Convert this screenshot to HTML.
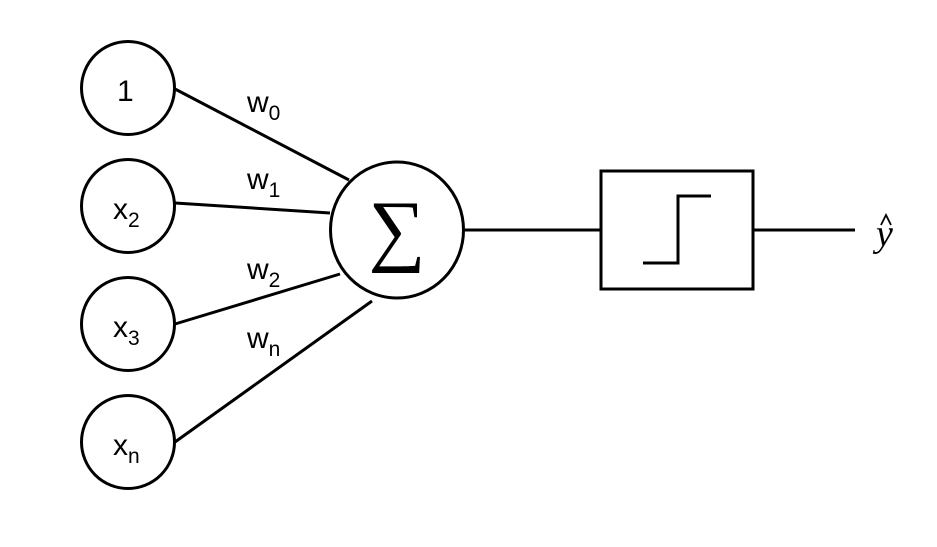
<!DOCTYPE html>
<html><head><meta charset="utf-8"><style>
html,body{margin:0;padding:0;background:#fff;width:937px;height:547px;overflow:hidden}
svg{display:block}
text{font-family:"Liberation Sans",sans-serif;fill:#000}
</style></head><body>
<svg width="937" height="547" viewBox="0 0 937 547" xmlns="http://www.w3.org/2000/svg">
<g fill="none" stroke="#000" stroke-width="3">
<circle cx="128" cy="88" r="46.5"/>
<circle cx="128" cy="206" r="46.5"/>
<circle cx="128" cy="324" r="46.5"/>
<circle cx="128" cy="442" r="46.5"/>
<ellipse cx="397" cy="230" rx="66.5" ry="68"/>
<line x1="175" y1="89" x2="349" y2="180"/>
<line x1="175" y1="203" x2="330" y2="213"/>
<line x1="175" y1="324" x2="340" y2="274"/>
<line x1="175" y1="442" x2="372" y2="301"/>
<line x1="463" y1="230" x2="601" y2="230"/>
<rect x="601" y="171" width="152" height="118"/>
<line x1="753" y1="230" x2="855" y2="230"/>
<polyline points="643,263 678,263 678,196 711,196"/>
</g>
<text x="117" y="101" font-size="30">1</text>
<text x="113" y="219" font-size="30">x<tspan font-size="21" dy="8">2</tspan></text>
<text x="113" y="337" font-size="30">x<tspan font-size="21" dy="8">3</tspan></text>
<text x="113" y="455" font-size="30">x<tspan font-size="21" dy="8">n</tspan></text>
<text x="247" y="112" font-size="30">w<tspan font-size="21" dy="8">0</tspan></text>
<text x="247" y="189" font-size="30">w<tspan font-size="21" dy="8">1</tspan></text>
<text x="247" y="279" font-size="30">w<tspan font-size="21" dy="8">2</tspan></text>
<text x="247" y="348" font-size="30">w<tspan font-size="21" dy="8">n</tspan></text>
<text x="397" y="256" font-size="80" text-anchor="middle" style="font-family:'Liberation Serif',serif">∑</text>
<text x="876" y="246" font-size="38" font-style="italic" style="font-family:'Liberation Serif',serif">y</text>
<polyline points="881,225 886,215 891,225" fill="none" stroke="#000" stroke-width="1.8"/>
</svg>
</body></html>
